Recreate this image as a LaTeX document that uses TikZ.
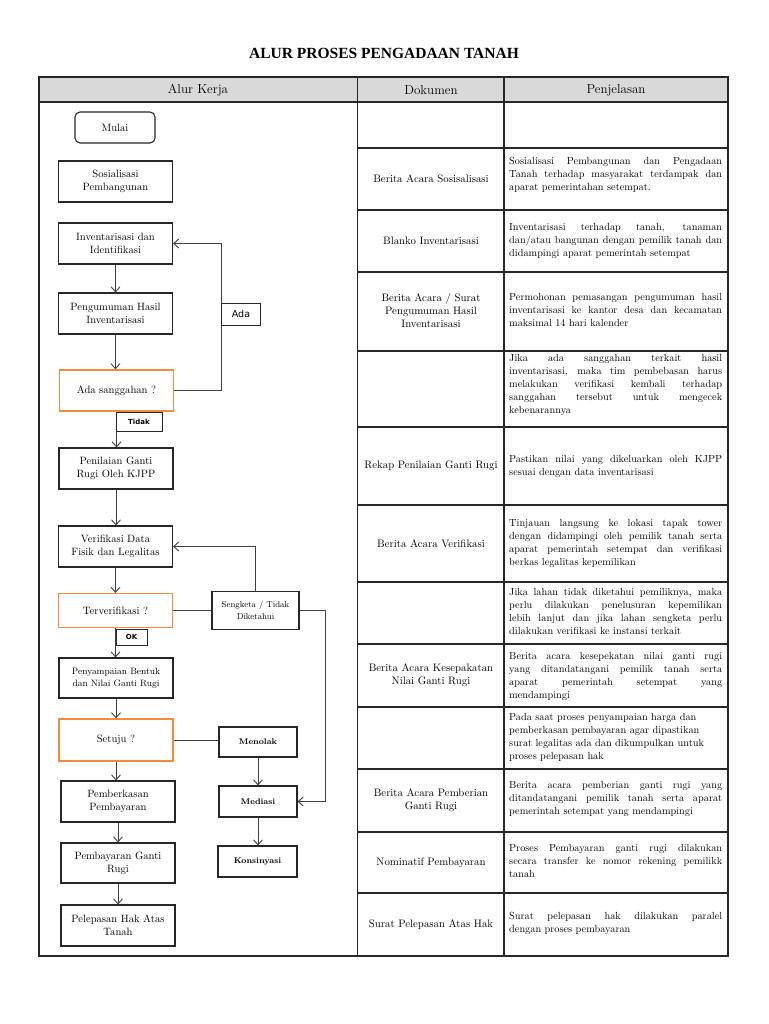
\documentclass[tikz,border=0pt]{standalone}
\usepackage{fontspec}
\newfontfamily\titlefont{Liberation Serif}
\newfontfamily\lblfont{DejaVu Sans}
\usetikzlibrary{arrows.meta}
\pgfdeclarelayer{bg}
\pgfsetlayers{bg,main}
\definecolor{hdr}{HTML}{D9D9D9}
\definecolor{org}{HTML}{F58A3C}
\definecolor{lnc}{HTML}{404040}
\begin{document}
\begin{tikzpicture}[x=1pt,y=-1pt,
  tbl/.style={draw=black!85, line width=1.3pt},
  box/.style={draw=black!85, line width=1.1pt, minimum width=114pt, minimum height=41pt,
    inner sep=1pt, align=center, text width=108pt, font=\fontsize{10.6}{13}\selectfont},
  obox/.style={box, draw=org, line width=1.3pt},
  sbox/.style={draw=black!85, line width=1.1pt, minimum width=78pt, minimum height=31pt,
    inner sep=1pt, align=center, font=\bfseries\fontsize{8.3}{10}\selectfont},
  lab/.style={draw=black!85, line width=1pt, fill=white, inner sep=0pt},
  hd/.style={font=\fontsize{13}{15}\selectfont},
  doc/.style={align=center, text width=140pt, inner sep=0pt, font=\fontsize{10.8}{13}\selectfont},
  pj/.style={anchor=west, text width=213pt, align=justify, inner sep=0pt, font=\fontsize{10.3}{13}\selectfont},
  pjl/.style={pj, align=left},
  conn/.style={draw=lnc, line width=0.9pt},
  arr/.style={conn, -{Straight Barb[length=5pt,width=9pt]}},
]
\useasboundingbox (0,0) rectangle (768,1024);

% title and header
\node (title) at (384,53) {\titlefont\bfseries\fontsize{15.5}{18}\selectfont ALUR PROSES PENGADAAN TANAH};
\node[hd] (h1) at (198,90) {Alur Kerja};
\node[hd] (h2) at (431,90) {Dokumen};
\node[hd] (h3) at (616,90) {Penjelasan};

% flowchart nodes
\node[box, minimum width=80pt, text width=70pt, minimum height=31pt, rounded corners=5pt] (mulai) at (115,127.5) {Mulai};
\node[box] (sos) at (115.5,181.5) {Sosialisasi\\Pembangunan};
\node[box] (inv) at (115.5,243.5) {Inventarisasi dan\\Identifikasi};
\node[box] (peng) at (115.5,313.5) {Pengumuman Hasil\\Inventarisasi};
\node[obox] (ada) at (116.5,390.5) {Ada sanggahan ?};
\node[box] (pen) at (116,468.5) {Penilaian Ganti\\Rugi Oleh KJPP};
\node[box] (ver) at (115.5,546.5) {Verifikasi Data\\Fisik dan Legalitas};
\node[obox, minimum height=34pt] (terv) at (115.5,610.5) {Terverifikasi ?};
\node[box, minimum height=40pt, font=\fontsize{9.2}{12}\selectfont] (peny) at (116,678) {Penyampaian Bentuk\\dan Nilai Ganti Rugi};
\node[obox, minimum height=42pt] (setuju) at (116,740) {Setuju ?};
\node[box] (pemb) at (118,801.5) {Pemberkasan\\Pembayaran};
\node[box, minimum height=40pt] (bayar) at (118,863) {Pembayaran Ganti\\Rugi};
\node[box] (lepas) at (118,925.5) {Pelepasan Hak Atas\\Tanah};

\node[sbox, minimum width=87pt, minimum height=38pt, font=\fontsize{8.6}{12}\selectfont] (seng) at (255.5,610.5) {Sengketa / Tidak\\Diketahui};
\node[sbox, minimum height=30pt] (menolak) at (258,742) {Menolak};
\node[sbox] (med) at (258,801.5) {Mediasi};
\node[sbox, minimum width=79pt] (kons) at (257.5,861.5) {Konsinyasi};

\node[lab, anchor=west, minimum width=39pt, minimum height=22pt, font=\lblfont\fontsize{9.5}{10}\selectfont] (adaL) at (221,314) {Ada};
\node[lab, anchor=west, minimum width=46pt, minimum height=19pt, font=\lblfont\bfseries\fontsize{7}{8}\selectfont] (tidakL) at (115.5,421.5) {Tidak};
\node[lab, anchor=west, minimum width=31pt, minimum height=16pt, font=\lblfont\bfseries\fontsize{7}{8}\selectfont] (okL) at (115.5,637) {OK};
\coordinate (sideR) at (325,610.5);

% table text
\node[doc] (d2) at (431,179) {Berita Acara Sosisalisasi};
\node[doc] (d3) at (431,241) {Blanko Inventarisasi};
\node[doc] (d4) at (431,311) {Berita Acara / Surat\\Pengumuman Hasil\\Inventarisasi};
\node[doc] (d6) at (431,466) {Rekap Penilaian Ganti Rugi};
\node[doc] (d7) at (431,543.5) {Berita Acara Verifikasi};
\node[doc] (d9) at (431,675.5) {Berita Acara Kesepakatan\\Nilai Ganti Rugi};
\node[doc] (d11) at (431,800.5) {Berita Acara Pemberian\\Ganti Rugi};
\node[doc] (d12) at (431,862.5) {Nominatif Pembayaran};
\node[doc] (d13) at (431,924.5) {Surat Pelepasan Atas Hak};

\node[pj] (p2) at (509,175) {Sosialisasi Pembangunan dan Pengadaan\linebreak Tanah terhadap masyarakat terdampak dan\linebreak aparat pemerintahan setempat.};
\node[pj] (p3) at (509,241) {Inventarisasi terhadap tanah, tanaman\linebreak dan/atau bangunan dengan pemilik tanah dan\linebreak didampingi aparat pemerintah setempat};
\node[pj] (p4) at (509,310) {Permohonan pemasangan pengumuman hasil\linebreak inventarisasi ke kantor desa dan kecamatan\linebreak maksimal 14 hari kalender};
\node[pj] (p5) at (509,385) {Jika ada sanggahan terkait hasil\linebreak inventarisasi, maka tim pembebasan harus\linebreak melakukan verifikasi kembali terhadap\linebreak sanggahan tersebut untuk mengecek\linebreak kebenarannya};
\node[pj] (p6) at (509,466) {Pastikan nilai yang dikeluarkan oleh KJPP\linebreak sesuai dengan data inventarisasi};
\node[pj] (p7) at (509,543.5) {Tinjauan langsung ke lokasi tapak tower\linebreak dengan didampingi oleh pemilik tanah serta\linebreak aparat pemerintah setempat dan verifikasi\linebreak berkas legalitas kepemilikan};
\node[pj] (p8) at (509,611) {Jika lahan tidak diketahui pemiliknya, maka\linebreak perlu dilakukan penelusuran kepemilikan\linebreak lebih lanjut dan jika lahan sengketa perlu\linebreak dilakukan verifikasi ke instansi terkait};
\node[pj] (p9) at (509,676) {Berita acara kesepekatan nilai ganti rugi\linebreak yang ditandatangani pemilik tanah serta\linebreak aparat pemerintah setempat yang\linebreak mendampingi};
\node[pjl] (p10) at (509,737) {Pada saat proses penyampaian harga dan\\pemberkasan pembayaran agar dipastikan\\surat legalitas ada dan dikumpulkan untuk\\proses pelepasan hak};
\node[pj] (p11) at (509,799) {Berita acara pemberian ganti rugi yang\linebreak ditandatangani pemilik tanah serta aparat\linebreak pemerintah setempat yang mendampingi};
\node[pj] (p12) at (509,861) {Proses Pembayaran ganti rugi dilakukan\linebreak secara transfer ke nomor rekening pemilikk\linebreak tanah};
\node[pj] (p13) at (509,923) {Surat pelepasan hak dilakukan paralel\linebreak dengan proses pembayaran};

\begin{pgfonlayer}{bg}
  \fill[hdr] (39,77) rectangle (728,102);
  \draw[tbl] (39,77) rectangle (728,956);
  \draw[tbl] (39,102) -- (728,102);
  \draw[tbl] (357.5,77) -- (357.5,956);
  \draw[tbl] (504,77) -- (504,956);
  \foreach \yy in {148,210,272,351,427,505,582,644,707,769,832,893}
    \draw[tbl] (357.5,\yy) -- (728,\yy);

  \draw[arr] (inv.south) -- (inv.south |- peng.north);
  \draw[arr] (peng.south) -- (peng.south |- ada.north);
  \draw[arr] (ada.east) -- (ada.east -| adaL.west) |- (inv.east);
  \draw[arr] (ada.south) -- (ada.south |- pen.north);
  \draw[arr] (pen.south) -- (pen.south |- ver.north);
  \draw[arr] (ver.south) -- (ver.south |- terv.north);
  \draw[conn] (terv.east) -- (terv.east -| seng.west);
  \draw[arr] (seng.north) |- (ver.east);
  \draw[arr] (seng.east) -- (sideR) |- (med.east);
  \draw[arr] (terv.south) -- (terv.south |- peny.north);
  \draw[arr] (peny.south) -- (peny.south |- setuju.north);
  \draw[conn] (setuju.east) -- (setuju.east -| menolak.west);
  \draw[arr] (menolak.south) -- (menolak.south |- med.north);
  \draw[arr] (med.south) -- (med.south |- kons.north);
  \draw[arr] (setuju.south) -- (setuju.south |- pemb.north);
  \draw[arr] (pemb.south) -- (pemb.south |- bayar.north);
  \draw[arr] (bayar.south) -- (bayar.south |- lepas.north);
\end{pgfonlayer}
\end{tikzpicture}
\end{document}
